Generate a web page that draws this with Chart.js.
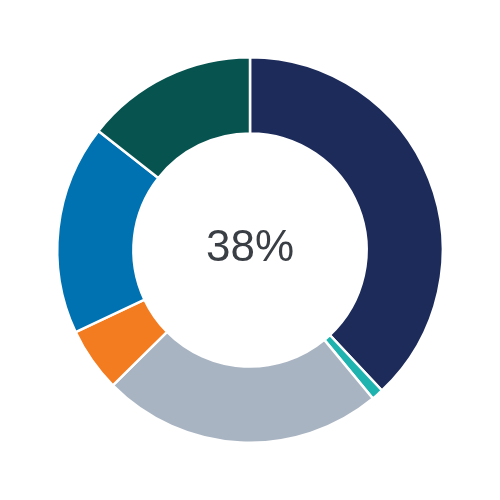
<!DOCTYPE html>
<html>
<head>
<meta charset="utf-8">
<script src="https://cdn.jsdelivr.net/npm/chart.js@4"></script>
<style>
  html, body { margin: 0; padding: 0; background: #ffffff; }
  #wrap { width: 500px; height: 500px; }
</style>
</head>
<body>
<div id="wrap"><canvas id="donut"></canvas></div>
<script>
const labels = ["Segment A", "Segment B", "Segment C", "Segment D", "Segment E", "Segment F"];
const values = [38, 1, 23.6, 5.4, 17.6, 14.4];
const colors = ["#1c2b5a", "#1fb3b0", "#a9b4c2", "#f47c20", "#0072b2", "#06534f"];
const centerLabel = "38%";

const centerText = {
  id: "centerText",
  afterDraw(chart) {
    const ctx = chart.ctx;
    const meta = chart.getDatasetMeta(0).data[0];
    if (!meta) return;
    ctx.save();
    ctx.font = "44px 'Liberation Sans', Arial, sans-serif";
    ctx.fillStyle = "#3a3f45";
    ctx.textAlign = "center";
    ctx.textBaseline = "middle";
    ctx.fillText(centerLabel, meta.x, meta.y - 1);
    ctx.restore();
  }
};

new Chart(document.getElementById("donut"), {
  type: "doughnut",
  data: {
    labels: labels,
    datasets: [{
      data: values,
      backgroundColor: colors,
      borderColor: "#ffffff",
      borderWidth: 2.5,
      hoverOffset: 0
    }]
  },
  options: {
    responsive: true,
    maintainAspectRatio: false,
    animation: false,
    cutout: "60.5%",
    layout: { padding: 56 },
    plugins: {
      legend: { display: false },
      tooltip: { enabled: false }
    }
  },
  plugins: [centerText]
});
</script>
</body>
</html>
